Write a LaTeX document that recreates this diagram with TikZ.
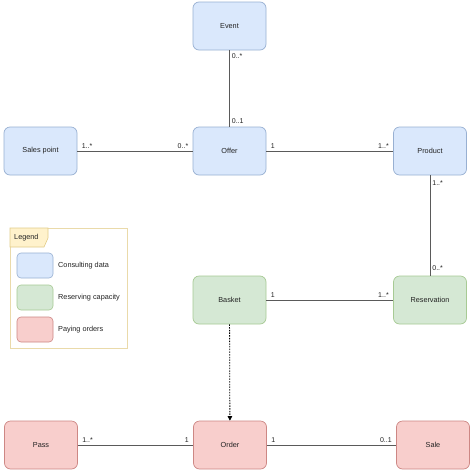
\documentclass[tikz,border=0pt]{standalone}
\usepackage{fontspec}
\setmainfont{Liberation Sans}
\usetikzlibrary{arrows.meta}
\definecolor{bfill}{HTML}{DAE8FC}\definecolor{bdraw}{HTML}{6C8EBF}
\definecolor{gfill}{HTML}{D5E8D4}\definecolor{gdraw}{HTML}{82B366}
\definecolor{rfill}{HTML}{F8CECC}\definecolor{rdraw}{HTML}{B85450}
\definecolor{lfill}{HTML}{FFF2CC}\definecolor{ldraw}{HTML}{D6B656}
\definecolor{txt}{HTML}{222222}\definecolor{edge}{HTML}{5A5A5A}
\begin{document}
\begin{tikzpicture}[x=1pt,y=-1pt,
  every node/.style={font=\fontsize{7.3}{8.5}\selectfont, text=txt},
  box/.style={draw, rounded corners=6pt, minimum width=73pt, minimum height=48pt, line width=0.7pt, inner sep=0pt},
  blue/.style={box, fill=bfill, draw=bdraw!70},
  green/.style={box, fill=gfill, draw=gdraw!70},
  red/.style={box, fill=rfill, draw=rdraw!70},
  swatch/.style={draw, rounded corners=4pt, minimum width=36pt, minimum height=25pt, line width=0.6pt, inner sep=0pt},
  conn/.style={draw=edge, line width=0.8pt},
  lbl/.style={inner sep=2pt, font=\fontsize{7}{8}\selectfont}]
\useasboundingbox (0,0) rectangle (474,472);
\fill[white] (0,0) rectangle (474,472);
% nodes
\node[blue] (event) at (229.5,26) {Event};
\node[blue] (offer) at (229.5,151) {Offer};
\node[blue] (sp) at (40.5,151) {Sales point};
\node[blue] (product) at (430,151) {Product};
\node[green] (basket) at (229.5,300) {Basket};
\node[green] (res) at (430,300) {Reservation};
\node[red] (pass) at (41,445) {Pass};
\node[red] (order) at (230,445) {Order};
\node[red] (sale) at (433,445) {Sale};
% connectors
\draw[conn] (event) -- (offer)
  node[lbl, pos=0, below right, yshift=-1pt] {0..*}
  node[lbl, pos=1, above right, yshift=1pt] {0..1};
\draw[conn] (sp) -- (offer)
  node[lbl, pos=0, above right, xshift=2pt] {1..*}
  node[lbl, pos=1, above left, xshift=-2pt] {0..*};
\draw[conn] (offer) -- (product)
  node[lbl, pos=0, above right, xshift=2pt] {1}
  node[lbl, pos=1, above left, xshift=-2pt] {1..*};
\draw[conn] (product) -- (res)
  node[lbl, pos=0, below right, yshift=-3pt] {1..*}
  node[lbl, pos=1, above right, yshift=3pt] {0..*};
\draw[conn] (basket) -- (res)
  node[lbl, pos=0, above right, xshift=2pt] {1}
  node[lbl, pos=1, above left, xshift=-2pt] {1..*};
\draw[conn] (pass) -- (order)
  node[lbl, pos=0, above right, xshift=2pt] {1..*}
  node[lbl, pos=1, above left, xshift=-2pt] {1};
\draw[conn] (order) -- (sale)
  node[lbl, pos=0, above right, xshift=2pt] {1}
  node[lbl, pos=1, above left, xshift=-2pt] {0..1};
\draw[conn, draw=black, dash pattern=on 1.5pt off 1.2pt, -{Triangle[width=4.5pt,length=4.5pt]}] (basket) -- (order);
% legend
\draw[draw=ldraw!50, line width=0.6pt] (10,228) rectangle (127,348);
\filldraw[fill=lfill, draw=ldraw!70, line width=0.6pt] (10,228) -- (48,228) -- (48,238) -- (44,247) -- (10,247) -- cycle;
\node[anchor=west, inner sep=0pt] (legtitle) at (14,237.5) {Legend};
\node[swatch, fill=bfill, draw=bdraw!70] (sw1) at (35,265.5) {};
\node[swatch, fill=gfill, draw=gdraw!70] (sw2) at (35,297.5) {};
\node[swatch, fill=rfill, draw=rdraw!70] (sw3) at (35,329.5) {};
\node[anchor=west, inner sep=0pt] (t1) at (58,265.5) {Consulting data};
\node[anchor=west, inner sep=0pt] (t2) at (58,297.5) {Reserving capacity};
\node[anchor=west, inner sep=0pt] (t3) at (58,329.5) {Paying orders};
\end{tikzpicture}
\end{document}
